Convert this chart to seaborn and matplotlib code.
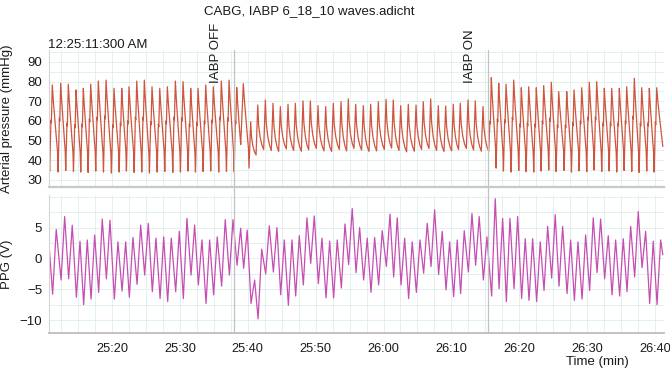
import numpy as np
import pandas as pd
import matplotlib
matplotlib.use('Agg')
import matplotlib.pyplot as plt
import matplotlib.transforms as mtransforms
from matplotlib.ticker import MultipleLocator, FuncFormatter
import seaborn as sns

nan = float('nan')

# time axis: seconds after 12:25:00
t_first, t_last = 10.70, 101.15
iabp_off_t, iabp_on_t = 38.02, 75.40

# time of each arterial pressure peak (one entry per heart beat)
beat_t = [11.20, 12.44, 13.56, 14.70, 15.77, 16.86, 17.98, 19.12, 20.29, 21.43, 22.50, 23.64, 24.76,
          25.89, 27.03, 28.15, 29.33, 30.46, 31.59, 32.67, 33.80, 34.92, 36.10, 37.24, 38.37, 39.34,
          40.43,
          41.47, 42.59, 43.72, 44.80, 45.93, 47.01, 48.14, 49.22, 50.35, 51.48, 52.60, 53.74, 54.81,
          55.90, 57.02, 58.11, 59.23, 60.37, 61.44, 62.53, 63.65, 64.79, 65.86, 66.95, 68.07, 69.16, 70.28,
          71.31, 72.45, 73.52, 74.66,
          75.88, 76.97, 78.05, 79.18, 80.30, 81.39, 82.51, 83.60, 84.72,
          85.81, 86.99, 88.07, 89.20, 90.32, 91.41, 92.53, 93.62, 94.74, 95.83, 96.95, 98.04, 99.16, 100.25]

# arterial pressure (mmHg): peak, foot before the upstroke, systolic shoulder (IABP beats only)
abp_peak = [78.3, 79.2, 78.7, 75.8, 76.6, 78.7, 80.3, 80.8, 76.6, 76.6, 77.4, 80.3, 80.8,
            77.4, 76.6, 77.4, 80.3, 80.0, 76.6, 76.6, 78.3, 77.4, 80.3, 80.8, 77.0, 79.0,
            59.6,
            68.1, 70.7, 69.0, 67.3, 68.5, 69.0, 70.2, 70.2, 67.8, 67.3, 69.0, 69.8, 71.2,
            68.5, 67.8, 68.5, 69.8, 71.0, 70.7, 67.8, 68.5, 68.1, 69.8, 71.2, 67.8, 67.6, 68.5,
            69.0, 70.7, 70.2, 67.3,
            82.0, 79.2, 78.7, 80.8, 76.9, 77.4, 76.9, 78.0, 79.7,
            74.9, 74.9, 75.8, 76.9, 79.7, 80.0, 76.6, 76.6, 76.6, 77.4, 81.7, 76.9, 76.6, 76.9]
abp_trough = [34.5, 34.0, 34.8, 34.3, 34.0, 33.8, 34.5, 34.0, 33.5, 34.0, 34.5, 33.8, 34.0,
              33.5, 34.0, 34.3, 33.8, 34.0, 34.5, 34.0, 34.3, 34.5, 34.0, 34.3, 34.2, 48.0,
              36.0,
              42.7, 45.5, 45.0, 44.5, 45.8, 45.0, 44.6, 45.3, 46.0, 44.8, 44.5, 45.5, 44.8,
              46.0, 45.2, 44.5, 44.8, 45.5, 46.2, 45.0, 44.3, 44.6, 45.5, 46.0, 45.0, 44.5, 44.8,
              45.5, 46.0, 45.2, 44.6,
              44.5, 36.0, 34.5, 34.0, 34.8, 34.2, 34.0, 34.5, 35.0,
              34.3, 34.8, 34.0, 34.5, 34.2, 35.0, 34.3, 34.5, 34.0, 34.8, 34.3, 33.8, 34.5, 34.0]
abp_shoulder = ([60.5, 61.5, 59.0, 58.0, 58.5, 61.0, 62.0, 62.5, 58.0, 59.0, 60.0, 62.0, 62.0,
                 59.5, 58.5, 60.0, 62.0, 61.5, 58.5, 59.0, 60.0, 60.5, 62.0, 61.5, 60.0]
                + [nan] * 33
                + [60.0, 61.0, 60.5, 62.0, 58.5, 59.0, 58.5, 60.0, 61.5,
                   58.0, 58.0, 59.0, 60.0, 62.0, 62.0, 59.0, 59.0, 59.0, 60.0, 62.5, 59.0, 59.0, 59.5])
abp_first, abp_last = 42.0, 47.0

# PPG (V): trough and peak following each beat
ppg_trough = [-5.8, -3.5, -3.3, -6.3, -7.5, -6.6, -5.5, -3.3, -6.6, -5.3, -6.3, -4.2, -2.7,
              -5.4, -6.5, -7.0, -5.4, -6.5, -2.7, -4.3, -7.3, -5.9, -4.5, -2.7, -1.1, -1.6,
              -7.3,
              -9.8, -2.5, -2.2, -5.9, -7.6, -6.1, -4.3, -0.8, -4.1, -6.4, -6.4, -4.8, -1.0,
              -2.3, -3.5, -5.5, -4.3, -1.3, -3.0, -4.3, -6.5, -5.5, -2.4, -1.3, -2.6, -5.1, -6.2,
              -5.7, -2.2, -1.1, -3.5,
              -6.1, -4.9, -7.0, -4.9, -6.5, -6.8, -7.0, -5.2, -3.2,
              -4.5, -5.7, -6.8, -6.6, -5.2, -2.3, -3.3, -5.9, -6.1, -5.4, -3.0, -1.5, -7.3, -7.5]
ppg_peak = [4.7, 6.8, 5.4, 2.8, 3.0, 3.8, 6.4, 6.2, 2.7, 2.7, 3.4, 5.4, 5.7,
            3.3, 3.5, 3.3, 4.4, 6.5, 5.4, 3.0, 3.0, 3.5, 6.3, 6.3, 4.9, 4.6,
            -3.5,
            1.5, 5.3, 5.0, 3.0, 3.0, 3.7, 6.6, 6.9, 3.3, 2.8, 3.0, 5.6, 8.1,
            5.0, 3.3, 3.4, 4.5, 7.2, 6.6, 3.3, 2.7, 3.0, 5.7, 7.9, 4.4, 2.7, 3.0,
            4.5, 7.3, 6.8, 3.5,
            9.7, 6.5, 6.5, 6.8, 3.2, 3.2, 2.7, 5.2, 7.1,
            5.2, 3.0, 2.7, 3.8, 6.6, 6.4, 3.7, 3.0, 3.2, 5.2, 7.6, 4.4, 2.8, 3.0]
ppg_first, ppg_last = 2.5, 0.6


def abp_vertices():
    ts, vs = [t_first], [abp_first]
    n = len(beat_t)
    for i in range(n):
        tp, p, d, s = beat_t[i], abp_peak[i], abp_trough[i], abp_shoulder[i]
        assisted = p > 72
        ts.append(tp - (0.38 if assisted else 0.25))
        vs.append(d)
        if not np.isnan(s):
            ts += [tp - 0.2, tp - 0.14]
            vs += [s, s - 1.5]
        ts.append(tp)
        vs.append(p)
        if i + 1 < n:
            t_foot = beat_t[i + 1] - (0.38 if abp_peak[i + 1] > 72 else 0.25)
            d_next = abp_trough[i + 1]
            if d_next < 40:  # balloon deflation dip before next upstroke
                t_end, v_end = t_foot - 0.08, d_next + 10
            else:
                t_end, v_end = t_foot, d_next
        else:
            t_end, v_end = t_last, abp_last
        if assisted:
            shape = zip([0.2, 0.5, 0.8], [0.76, 0.46, 0.18])
        else:
            shape = zip([0.15, 0.4, 0.7], [0.55, 0.28, 0.1])
        for f, w in shape:
            ts.append(tp + f * (t_end - tp))
            vs.append(v_end + w * (p - v_end))
        ts.append(t_end)
        vs.append(v_end)
    return ts, vs


def ppg_vertices():
    ts, vs = [t_first], [ppg_first]
    for tp, lo, hi in zip(beat_t, ppg_trough, ppg_peak):
        ts += [tp + 0.05, tp + 0.58]
        vs += [lo, hi]
    ts.append(t_last)
    vs.append(ppg_last)
    return ts, vs


t_abp, v_abp = abp_vertices()
t_ppg, v_ppg = ppg_vertices()
abp_df = pd.DataFrame({'t': t_abp, 'mmHg': v_abp})
ppg_df = pd.DataFrame({'t': t_ppg, 'V': v_ppg})

sns.set_theme(style='white')
plt.rcParams['font.family'] = ['Liberation Sans', 'DejaVu Sans']
fs = 9.5
txt = '#1a1a1a'
grid_c = '#dcefee'

fig = plt.figure(figsize=(6.7, 3.7), dpi=100)
ax1 = fig.add_axes([48.5 / 670, 1 - 187 / 370, 615 / 670, 137 / 370])
ax2 = fig.add_axes([48.5 / 670, 1 - 333 / 370, 615 / 670, 138 / 370])

sns.lineplot(data=abp_df, x='t', y='mmHg', ax=ax1, color='#cf553e', linewidth=0.9,
             estimator=None, sort=False)
sns.lineplot(data=ppg_df, x='t', y='V', ax=ax2, color='#c64db2', linewidth=0.9,
             estimator=None, sort=False)

for ax in (ax1, ax2):
    ax.set_xlim(10.64, 101.25)
    ax.xaxis.set_major_locator(MultipleLocator(5))
    ax.xaxis.set_minor_locator(MultipleLocator(2.5))
    ax.grid(which='both', color=grid_c, linewidth=0.6)
    ax.set_axisbelow(True)
    for side in ('top', 'right'):
        ax.spines[side].set_visible(False)
    ax.spines['left'].set_color('#d4d4d4')
    ax.spines['left'].set_linewidth(0.8)
    ax.tick_params(axis='y', length=0, pad=4.5, labelsize=fs, labelcolor=txt)
    ax.tick_params(axis='x', which='minor', length=0)

ax1.set_ylim(26.4, 96.1)
ax1.yaxis.set_major_locator(MultipleLocator(10))
ax1.yaxis.set_minor_locator(MultipleLocator(5))
ax1.tick_params(axis='x', which='major', length=0, labelbottom=False)
ax1.spines['bottom'].set_color('#c8c8c8')
ax1.spines['bottom'].set_linewidth(1.6)
ax1.set_xlabel('')
ax1.set_ylabel('Arterial pressure (mmHg)', fontsize=fs, color=txt)
ax1.yaxis.set_label_coords(-0.057, 0.5)

ax2.set_ylim(-12.1, 10.3)
ax2.set_yticks([-10, -5, 0, 5])
ax2.yaxis.set_minor_locator(MultipleLocator(2.5))
ax2.spines['bottom'].set_color('#bdbdbd')
ax2.spines['bottom'].set_linewidth(1.3)
ax2.tick_params(axis='x', which='major', length=3, width=0.8, color='#bdbdbd',
                pad=4.5, labelsize=9.2, labelcolor=txt)


def clock(s, pos):
    s = int(round(s))
    if s % 10:
        return ''
    return f'{25 + s // 60}:{s % 60:02d}'


ax2.xaxis.set_major_formatter(FuncFormatter(clock))
ax2.set_xlabel('Time (min)', fontsize=fs, color=txt)
ax2.xaxis.set_label_coords(0.893, -0.17)
ax2.set_ylabel('PPG (V)', fontsize=fs, color=txt)
ax2.yaxis.set_label_coords(-0.057, 0.5)

# IABP events
trans = mtransforms.blended_transform_factory(ax1.transData, ax1.transAxes)
for t_ev, label in [(iabp_off_t, 'IABP OFF'), (iabp_on_t, 'IABP ON')]:
    ax1.axvline(t_ev, ymin=-0.07, ymax=1, color='#c2c2c2', linewidth=0.9, clip_on=False)
    ax2.axvline(t_ev, ymin=0, ymax=1, color='#c2c2c2', linewidth=0.9)
    ax1.text(t_ev - 2.7, 0.757, label, rotation=90, ha='center', va='bottom',
             transform=trans, fontsize=fs, color=txt)

fig.text(309 / 670, 1 - 14 / 370, 'CABG, IABP 6_18_10 waves.adicht', ha='center',
         va='baseline', fontsize=fs, color=txt)
fig.text(48.5 / 670, 1 - 48 / 370, '12:25:11:300 AM', ha='left', va='baseline',
         fontsize=fs, color=txt)

fig.savefig('out.png', dpi=100, facecolor='white')
